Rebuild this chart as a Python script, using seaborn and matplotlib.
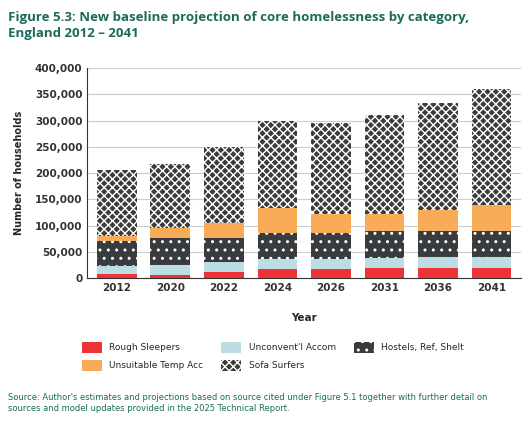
import numpy as np
import matplotlib
matplotlib.use('Agg')
import matplotlib.pyplot as plt
import seaborn as sns

sns.set_style("white")
plt.rcParams['hatch.linewidth'] = 1.0

years = ['2012', '2020', '2022', '2024', '2026', '2031', '2036', '2041']
rough = [9000, 7000, 12500, 18000, 18000, 20000, 20000, 20000]
unconv = [15000, 19000, 19000, 18500, 18500, 19000, 21000, 21000]
hostels = [48000, 51000, 45500, 49500, 49500, 50500, 48500, 48500]
temp = [8500, 19000, 29000, 47500, 35500, 32000, 40500, 50500]
sofa = [126500, 122000, 143000, 165500, 173500, 189500, 203000, 221000]

names = ['Rough Sleepers', "Unconvent'l Accom", 'Hostels, Ref, Shelt',
         'Unsuitable Temp Acc', 'Sofa Surfers']
series = [rough, unconv, hostels, temp, sofa]
colors = ['#EE3338', '#BCDDE3', '#393C3F', '#F9AC57', '#3C3C3C']
hatches = [None, None, '..', None, 'xxxx']

fig = plt.figure(figsize=(5.29, 4.25), dpi=100)
ax = fig.add_axes([0.165, 0.345, 0.82, 0.495])
x = np.arange(len(years))
bottom = np.zeros(len(years))
for name, vals, c, h in zip(names, series, colors, hatches):
    ax.bar(x, vals, 0.74, bottom=bottom, color=c, label=name,
           hatch=h, edgecolor='white' if h else c, linewidth=0)
    bottom += np.array(vals)

ax.set_ylim(0, 400000)
ax.set_xlim(-0.55, len(years) - 0.45)
ax.set_yticks(range(0, 400001, 50000))
ax.set_yticklabels([f'{v:,}' for v in range(0, 400001, 50000)], fontsize=7.5, fontweight='bold', color='#333333')
ax.set_xticks(x)
ax.set_xticklabels(years, fontsize=7.5, fontweight='bold', color='#333333')
ax.yaxis.grid(True, color='#cccccc', linewidth=0.8)
ax.set_axisbelow(True)
for s in ['top', 'right']:
    ax.spines[s].set_visible(False)
ax.spines['left'].set_color('#333333')
ax.spines['bottom'].set_color('#333333')
ax.set_xticks(np.arange(len(years) + 1) - 0.5, minor=True)
ax.tick_params(axis='x', which='minor', length=4, color='#333333')
ax.tick_params(axis='x', which='major', length=0)
ax.tick_params(axis='y', length=0)
ax.set_xlabel('Year', fontsize=7.5, fontweight='bold', labelpad=14)
ax.set_ylabel('Number of households', fontsize=7, fontweight='bold', labelpad=8)

fig.text(0.015, 0.975, 'Figure 5.3: New baseline projection of core homelessness by category,\nEngland 2012 – 2041',
         fontsize=9.5, fontweight='bold', color='#1a6b5a', va='top', linespacing=1.3,
         family='Liberation Sans Narrow' if False else 'Open Sans')

handles, labels = ax.get_legend_handles_labels()
order = [0, 3, 1, 4, 2]
fig.legend([handles[i] for i in order], [labels[i] for i in order],
           loc='upper left', bbox_to_anchor=(0.14, 0.215), ncol=3,
           frameon=False, fontsize=6.5, handlelength=2.2, handleheight=1.5,
           columnspacing=2.0, labelspacing=0.8)

fig.text(0.015, 0.075, 'Source: Author\'s estimates and projections based on source cited under Figure 5.1 together with further detail on\nsources and model updates provided in the 2025 Technical Report.',
         fontsize=6, color='#1a6b5a', va='top')

fig.savefig('out.png', dpi=100)
